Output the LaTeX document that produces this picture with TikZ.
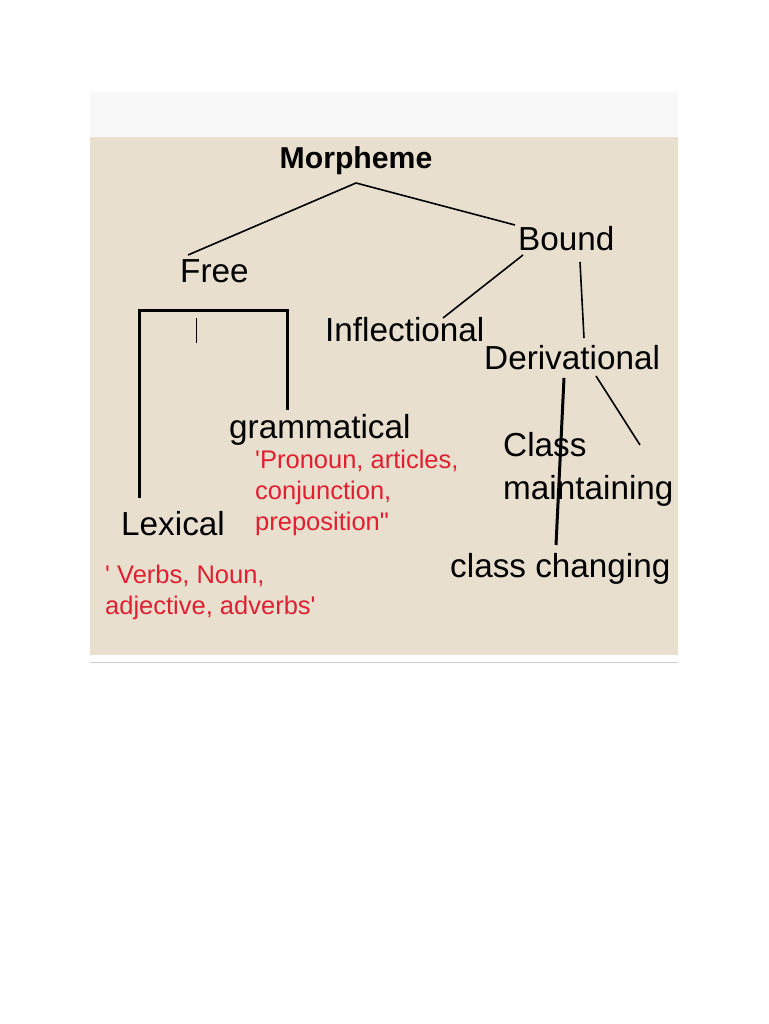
\documentclass[tikz,border=0pt]{standalone}
\usepackage{fontspec}
\setmainfont{Liberation Sans}[Ligatures=TeXOff]
\definecolor{paper}{HTML}{E8DFCF}
\definecolor{band}{HTML}{F8F8F8}
\definecolor{redtxt}{HTML}{E02030}
\newcommand{\sq}{\symbol{39}}
\newcommand{\dq}{\symbol{34}}
\begin{document}
\begin{tikzpicture}[x=1pt,y=-1pt,
  lbl/.style={font=\fontsize{33.3}{36}\selectfont, inner sep=0pt, anchor=base west},
  red/.style={font=\fontsize{25.5}{31}\selectfont, text=redtxt, align=left, inner sep=0pt, anchor=north west},
  ln/.style={line width=1.6pt}, thick ln/.style={line width=3pt}]
\useasboundingbox (0,0) rectangle (768,1024);
\fill[white] (0,0) rectangle (768,1024);
\fill[band] (90,92) rectangle (678,137);
\fill[paper] (90,137) rectangle (678,655);
\draw[gray!40,line width=1pt] (90,662) -- (678,662);
\node[font=\bfseries\fontsize{30.2}{32}\selectfont,inner sep=0pt,anchor=base] (morph) at (356,169) {Morpheme};
\node[lbl] (bound) at (518,250) {Bound};
\node[lbl] (free) at (180,282) {Free};
\node[lbl] (infl) at (325,341) {Inflectional};
\node[lbl] (deriv) at (484,369) {Derivational};
\node[lbl] (gram) at (229,438) {grammatical};
\node[lbl,align=left,anchor=north west,font=\fontsize{33.3}{43}\selectfont] (cm) at (503,432) {Class\\maintaining};
\node[lbl] (lex) at (121,535) {Lexical};
\node[lbl] (cc) at (450,577) {class changing};
\node[red] (gr) at (255,450) {\sq Pronoun, articles,\\conjunction,\\preposition\dq};
\node[red] (lr) at (105,565) {\sq{} Verbs, Noun,\\adjective, adverbs\sq};
\coordinate (m0) at (356,183);
\coordinate (f0) at (188,255);
\coordinate (b0) at (515,225);
\draw[ln] (m0) -- (f0);
\draw[ln] (m0) -- (b0);
\coordinate (b1) at (523,255); \coordinate (i0) at (443,318);
\coordinate (b2) at (580,262); \coordinate (d0) at (584,338);
\draw[ln] (b1) -- (i0);
\draw[ln] (b2) -- (d0);
\coordinate (d1) at (596,376); \coordinate (c1) at (640,445);
\coordinate (d2) at (564,378); \coordinate (c2) at (556,545);
\draw[ln] (d1) -- (c1);
\draw[thick ln] (d2) -- (c2);
\coordinate (k1) at (139,498); \coordinate (k2) at (139,310);
\coordinate (k3) at (287,310); \coordinate (k4) at (287,410);
\draw[thick ln] (k1) -- (k2) -- (k3) -- (k4);
\coordinate (s1) at (196,318); \coordinate (s2) at (196,343);
\draw[line width=0.8pt] (s1) -- (s2);
\end{tikzpicture}
\end{document}
